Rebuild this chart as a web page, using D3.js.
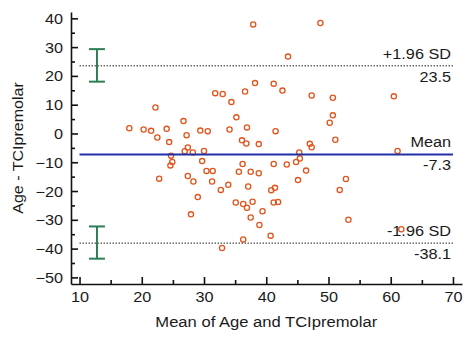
<!DOCTYPE html>
<html>
<head>
<meta charset="utf-8">
<script src="https://cdn.jsdelivr.net/npm/d3@7"></script>
<style>
  html, body { margin: 0; padding: 0; background: #fff; }
  svg { display: block; }
  text { font-family: "Liberation Sans", Arial, sans-serif; fill: #1a1a1a; }
</style>
</head>
<body>
<svg id="chart" width="474" height="341"></svg>
<script>
// ---- data ----
const meanVals = [18.0,20.3,21.5,22.5,22.2,22.8,24.0,24.4,24.7,24.9,24.6,26.7,27.2,27.4,26.9,28.2,27.4,28.3,29.0,27.9,29.4,30.6,30.0,29.7,30.4,31.4,31.3,31.8,33.0,32.7,33.9,32.9,34.1,34.4,35.2,36.1,36.8,36.2,35.6,36.6,36.9,37.9,38.2,37.1,35.1,36.3,36.9,37.8,37.5,36.3,37.5,38.8,38.8,39.4,38.9,40.7,40.8,41.4,41.2,41.9,41.2,41.2,42.6,41.5,43.3,43.5,44.8,45.4,45.3,45.1,46.4,47.0,47.3,47.3,48.7,50.7,50.7,50.2,51.1,52.8,51.8,53.2,60.5,61.1,61.7];
const diffVals = [1.8,1.4,0.9,-1.4,9.0,-15.7,1.6,-3.0,-7.7,-9.9,-11.1,4.3,-0.6,-4.9,-6.2,-6.6,-14.8,-16.7,-22.1,-28.1,1.0,0.8,-6.1,-9.6,-13.0,-13.0,-16.7,14.0,13.7,-19.6,-17.8,-39.8,1.4,10.9,5.6,-2.4,-3.5,-10.6,-13.3,14.6,2.1,37.9,17.5,-18.4,-24.0,-24.5,-25.8,-23.7,-29.2,-36.8,-13.3,-13.8,-3.7,-27.0,-31.8,-35.5,-19.7,-18.9,-24.0,-23.8,-10.6,17.3,14.9,0.8,-10.8,26.7,-9.9,-8.7,-6.6,-16.2,-12.9,-3.6,-4.8,13.2,38.4,12.4,6.3,3.7,-2.2,-15.8,-19.6,-30.0,12.9,-6.1,-33.3];
const xTicks = [10,20,30,40,50,60,70];
const xMinorTicks = [15,25,35,45,55,65];
const yTicks = [40,30,20,10,0,-10,-20,-30,-40,-50];
const yMinorTicks = [35,25,15,5,-5,-15,-25,-35,-45];
const meanDiff = -7.3;
const upperLoA = 23.5;
const lowerLoA = -38.1;
const upperCI = [18.0, 29.3];
const lowerCI = [-43.5, -32.3];
const ciX = 12.8;
const xTitle = "Mean of Age and TCIpremolar";
const yTitle = "Age - TCIpremolar";

// ---- scales ----
const svg = d3.select("#chart");
const x = d3.scaleLinear().domain([8.63, 71.45]).range([71, 462]);
const y = d3.scaleLinear().domain([42.2, -52.3]).range([12, 284]);
const SX = 1.16; // horizontal text stretch

// ---- axes ----
const gx = svg.append("g").attr("transform", `translate(0,${y.range()[1]})`)
  .call(d3.axisBottom(x).tickValues(xTicks).tickSize(-7).tickSizeOuter(0).tickPadding(0).tickFormat(d3.format("d")));
const gxm = svg.append("g").attr("transform", `translate(0,${y.range()[1]})`)
  .call(d3.axisBottom(x).tickValues(xMinorTicks).tickSize(-4).tickSizeOuter(0).tickFormat(""));
gxm.select(".domain").remove();
gx.selectAll(".tick text")
  .attr("y", null).attr("dy", null)
  .attr("transform", `translate(0,18) scale(${SX},1)`)
  .style("font-size", "14px");

const gy = svg.append("g").attr("transform", `translate(${x.range()[0]},0)`)
  .call(d3.axisLeft(y).tickValues(yTicks).tickSize(-7).tickSizeOuter(0).tickPadding(0).tickFormat(d3.format("d")));
const gym = svg.append("g").attr("transform", `translate(${x.range()[0]},0)`)
  .call(d3.axisLeft(y).tickValues(yMinorTicks).tickSize(-4).tickSizeOuter(0).tickFormat(""));
gym.select(".domain").remove();
gy.selectAll(".tick text")
  .attr("x", null).attr("dy", null)
  .attr("transform", `translate(-8,5) scale(${SX},1)`)
  .style("font-size", "14px");

svg.selectAll(".domain, .tick line").attr("stroke", "#111").attr("stroke-width", 1.6);
svg.selectAll(".tick text").attr("fill", "#1a1a1a").attr("font-family", null);

// ---- axis titles ----
svg.append("text")
  .attr("transform", `translate(${(x(10)+x(70))/2},327) scale(1.07,1)`)
  .attr("text-anchor", "middle").style("font-size", "15.5px").text(xTitle);
svg.append("text")
  .attr("transform", `translate(23,${(y.range()[0]+y.range()[1])/2}) rotate(-90) scale(1.07,1)`)
  .attr("text-anchor", "middle").style("font-size", "15px").text(yTitle);

// ---- reference lines ----
const xl0 = x(10), xl1 = x(70);
svg.append("line").attr("x1", xl0).attr("x2", xl1).attr("y1", y(upperLoA)).attr("y2", y(upperLoA))
  .attr("stroke", "#222").attr("stroke-width", 1).attr("stroke-dasharray", "1.5,1.5");
svg.append("line").attr("x1", xl0).attr("x2", xl1).attr("y1", y(lowerLoA)).attr("y2", y(lowerLoA))
  .attr("stroke", "#222").attr("stroke-width", 1).attr("stroke-dasharray", "1.5,1.5");

// ---- CI bars ----
[upperCI, lowerCI].forEach(ci => {
  const g = svg.append("g").attr("stroke", "#2e7d55").attr("stroke-width", 2).attr("fill", "none");
  g.append("line").attr("x1", x(ciX)).attr("x2", x(ciX)).attr("y1", y(ci[0])).attr("y2", y(ci[1]));
  g.append("line").attr("x1", x(ciX)-8).attr("x2", x(ciX)+8).attr("y1", y(ci[0])).attr("y2", y(ci[0]));
  g.append("line").attr("x1", x(ciX)-8).attr("x2", x(ciX)+8).attr("y1", y(ci[1])).attr("y2", y(ci[1]));
});

// ---- points ----
svg.append("g").selectAll("circle")
  .data(meanVals.map((m, i) => [m, diffVals[i]]))
  .join("circle")
  .attr("cx", d => x(d[0])).attr("cy", d => y(d[1])).attr("r", 2.6)
  .attr("fill", "none").attr("stroke", "#e2541c").attr("stroke-width", 1.3);

// ---- mean line ----
svg.append("line").attr("x1", xl0).attr("x2", xl1).attr("y1", y(meanDiff)).attr("y2", y(meanDiff))
  .attr("stroke", "#1f2fa8").attr("stroke-width", 2);

// ---- labels ----
function label(txt, v, above) {
  svg.append("text")
    .attr("transform", `translate(451,${y(v) + (above ? -7 : 16)}) scale(${SX},1)`)
    .attr("text-anchor", "end").style("font-size", "14px").text(txt);
}
label("+1.96 SD", upperLoA, true);
label(upperLoA.toFixed(1), upperLoA, false);
label("Mean", meanDiff, true);
label(meanDiff.toFixed(1), meanDiff, false);
label("-1.96 SD", lowerLoA, true);
label(lowerLoA.toFixed(1), lowerLoA, false);
</script>
</body>
</html>
